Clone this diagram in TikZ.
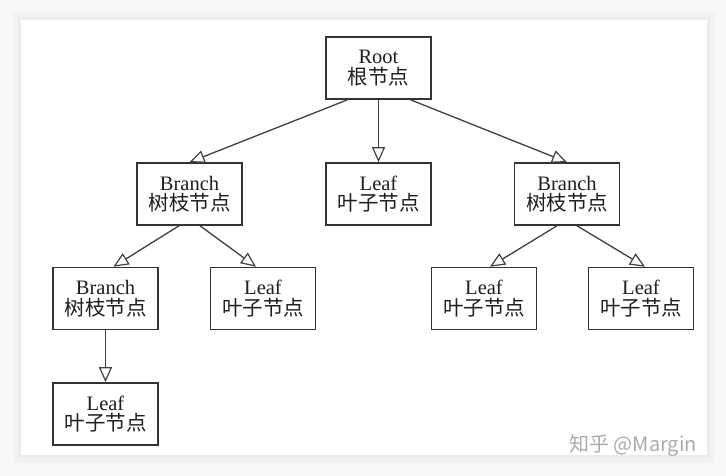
\documentclass[tikz,border=0pt]{standalone}
\usepackage{fontspec}
\setmainfont{Liberation Serif}
\newfontfamily\cjk{Noto Sans CJK SC}
\usetikzlibrary{arrows.meta}

\begin{document}
\begin{tikzpicture}[node distance=126pt]
\tikzstyle{treebox} = [rectangle, minimum width=105pt, minimum height=62pt, text centered, align=center, draw=black!80, line width=1.6pt, font=\fontsize{20.5}{20.5}\selectfont, text=black!88]
\tikzstyle{genarrow} = [-{Triangle[open, length=15pt, width=13pt, line width=1.2pt]}, line width=1.3pt, draw=black!75]
% frame with a soft shadow
\useasboundingbox (0,0) rectangle (726pt,-476pt);
\fill[black!3] (0,0) rectangle (726pt,-476pt);
\fill[black!5] (13pt,-12pt) rectangle (715pt,-463pt);
\fill[black!8] (18pt,-17pt) rectangle (710pt,-458pt);
\fill[white] (21pt,-20pt) rectangle (707pt,-455pt);
\node (root)[treebox] at (378.5pt,-68pt) {Root\\{\cjk 根节点}};
\node (lm)[treebox, below of=root] {Leaf\\{\cjk 叶子节点}};
\node (bl)[treebox, left of=lm, node distance=189pt] {Branch\\{\cjk 树枝节点}};
\node (br)[treebox, right of=lm, node distance=188.5pt] {Branch\\{\cjk 树枝节点}};
\node (bll)[treebox, below of=bl, node distance=104.5pt, xshift=-84pt] {Branch\\{\cjk 树枝节点}};
\node (blr)[treebox, below of=bl, node distance=104.5pt, xshift=73.5pt] {Leaf\\{\cjk 叶子节点}};
\node (brl)[treebox, below of=br, node distance=104.5pt, xshift=-83pt] {Leaf\\{\cjk 叶子节点}};
\node (brr)[treebox, below of=br, node distance=104.5pt, xshift=74pt] {Leaf\\{\cjk 叶子节点}};
\node (blll)[treebox, below of=bll, node distance=115.5pt] {Leaf\\{\cjk 叶子节点}};
\draw [genarrow] ([xshift=-31pt]root.south) -- (bl.north);
\draw [genarrow] (root) -- (lm);
\draw [genarrow] ([xshift=32pt]root.south) -- (br.north);
\draw [genarrow] ([xshift=-10.5pt]bl.south) -- ([xshift=8pt]bll.north);
\draw [genarrow] ([xshift=10.5pt]bl.south) -- ([xshift=-7pt]blr.north);
\draw [genarrow] ([xshift=-10pt]br.south) -- ([xshift=6pt]brl.north);
\draw [genarrow] ([xshift=10pt]br.south) -- ([xshift=4pt]brr.north);
\draw [genarrow] (bll) -- (blll);
\node (mark)[anchor=base west, text=black!33, font=\cjk\fontsize{20}{20}\selectfont] at (566pt,-451pt) {知乎 @Margin};
\end{tikzpicture}
\end{document}
